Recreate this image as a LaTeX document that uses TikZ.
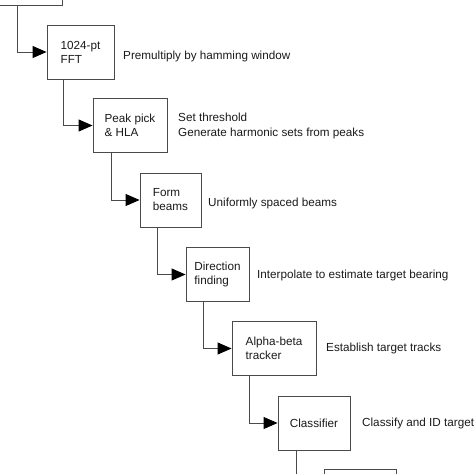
\documentclass[tikz,border=0pt]{standalone}
\usepackage{fontspec}
\setmainfont{Liberation Sans}
\usetikzlibrary{arrows.meta}
\definecolor{ink}{HTML}{4A4A4A}
\definecolor{txt}{HTML}{1A1A1A}
\tikzset{
  stage/.style={draw=ink, line width=0.9pt, fill=white, align=left, inner sep=0pt,
    minimum height=54pt, font=\fontsize{11.7}{14}\selectfont, text=txt},
  lab/.style={anchor=west, align=left, inner sep=0pt, font=\fontsize{11.7}{15}\selectfont, text=txt},
  conn/.style={draw=ink, line width=0.9pt, -{Triangle[length=14pt,width=12pt,color=black]}},
  plain/.style={draw=ink, line width=0.9pt}
}
\begin{document}
\begin{tikzpicture}[x=1pt,y=-1pt]
\useasboundingbox (0,0) rectangle (474,474);
\clip (0,0) rectangle (474,474);
\node[stage, minimum width=63pt] (top) at (30.5,-22) {};
\node[stage, minimum width=67pt] (fft) at (80.5,52) {1024-pt\\FFT};
\node[stage, minimum width=74pt] (peak) at (130,125.5) {Peak pick\\\& HLA};
\node[stage, minimum width=61pt] (form) at (170.5,200) {Form\\beams};
\node[stage, minimum width=63pt] (dir) at (217.5,274.5) {Direction\\finding};
\node[stage, minimum width=84pt] (alpha) at (274,348.5) {Alpha-beta\\tracker};
\node[stage, minimum width=72pt] (cls) at (314,423) {Classifier};
\node[stage, minimum width=72pt] (next) at (360,496) {};

\draw[conn] ([xshift=18.5pt]top.south west) |- (fft.west);
\draw[conn] ([xshift=17pt]fft.south west) |- (peak.west);
\draw[conn] ([xshift=19pt]peak.south west) |- (form.west);
\draw[conn] ([xshift=18pt]form.south west) |- (dir.west);
\draw[conn] ([xshift=18pt]dir.south west) |- (alpha.west);
\draw[conn] ([xshift=18pt]alpha.south west) |- (cls.west);
\coordinate (cend) at ([xshift=19pt]cls.south west |- 0,480);
\draw[plain] ([xshift=19pt]cls.south west) -- (cend);

\node[lab] (lfft) at (123,56) {Premultiply by hamming window};
\node[lab] (lpeak) at (178,125.5) {Set threshold\\Generate harmonic sets from peaks};
\node[lab] (lform) at (208,203) {Uniformly spaced beams};
\node[lab] (ldir) at (257,275) {Interpolate to estimate target bearing};
\node[lab] (lalpha) at (326,348) {Establish target tracks};
\node[lab] (lcls) at (362,423) {Classify and ID target};
\end{tikzpicture}
\end{document}
